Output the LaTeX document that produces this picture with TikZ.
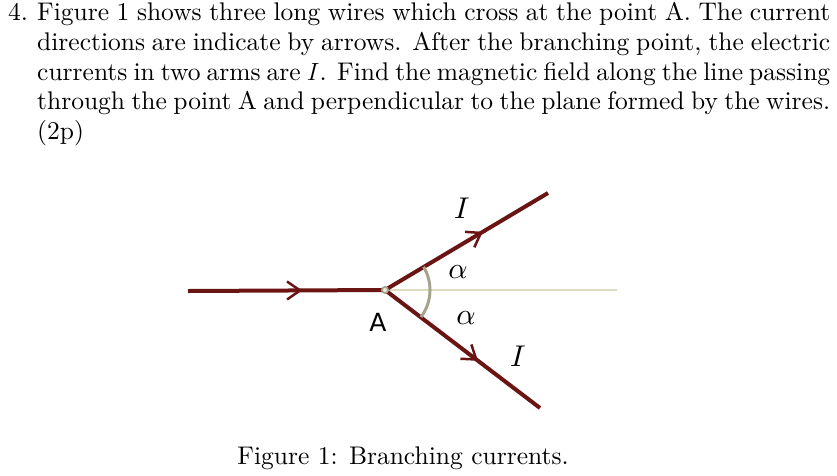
\documentclass[tikz,border=0pt]{standalone}
\usepackage{fontspec}
\setmainfont{lmroman10-regular.otf}[ItalicFont=lmroman10-italic.otf,BoldFont=lmroman10-bold.otf]
\newfontfamily\labfont{DejaVu Sans}
\usetikzlibrary{decorations.markings,arrows.meta}
\definecolor{wire}{HTML}{6B1414}
\definecolor{guide}{HTML}{DCDCC0}
\definecolor{arcc}{HTML}{A4A48C}
\begin{document}
\begin{tikzpicture}[x=1pt,y=-1pt,
  wirest/.style={wire,line width=4pt,
    postaction={decorate,decoration={markings,mark=at position #1 with {\arrow{Straight Barb[length=13pt,width=18pt,line width=2.5pt]}}}}},
  lab/.style={font=\fontsize{10}{12}\selectfont,scale=3}]
\useasboundingbox (0,0) rectangle (837,475);
\node[anchor=north west,inner sep=0pt,text width=822pt,align=justify,font=\fontsize{25.5}{29.8}\selectfont] (txt) at (8,2)
 {\hangindent29pt\hangafter1\noindent\makebox[29pt][l]{4.}Figure 1 shows three long wires which cross at the point A. The current directions are indicate by arrows. After the branching point, the electric currents in two arms are $I$. Find the magnetic field along the line passing through the point A and perpendicular to the plane formed by the wires. (2p)\par};
\coordinate (A) at (385,290);
\coordinate (L) at (188,291);
\coordinate (U) at (548,193);
\coordinate (D) at (540,408);
\coordinate (R) at (617,290);
\draw[guide,line width=1.5pt] (A) -- (R);
\draw[wirest=0.58] (L) -- (A);
\draw[wirest=0.6] (A) -- (U);
\draw[wirest=0.6] (A) -- (D);
\draw[arcc,line width=3pt] (A) ++(-31:45) arc[start angle=-31,end angle=0,radius=45];
\draw[arcc,line width=3pt] (A) ++(0:45) arc[start angle=0,end angle=37,radius=45];
\fill[arcc] (A) circle (4pt);
\fill[guide!60!white] (A) circle (2pt);
\node[font=\labfont\fontsize{25}{28}\selectfont] (a) at (378,322) {A};
\node[lab] (al1) at (458,272) {$\alpha$};
\node[lab] (al2) at (466,318) {$\alpha$};
\node[lab] (i1) at (462,208) {$I$};
\node[lab] (i2) at (518,356) {$I$};
\node[font=\fontsize{25.5}{28}\selectfont] (cap) at (403,458) {Figure 1: Branching currents.};
\end{tikzpicture}
\end{document}
